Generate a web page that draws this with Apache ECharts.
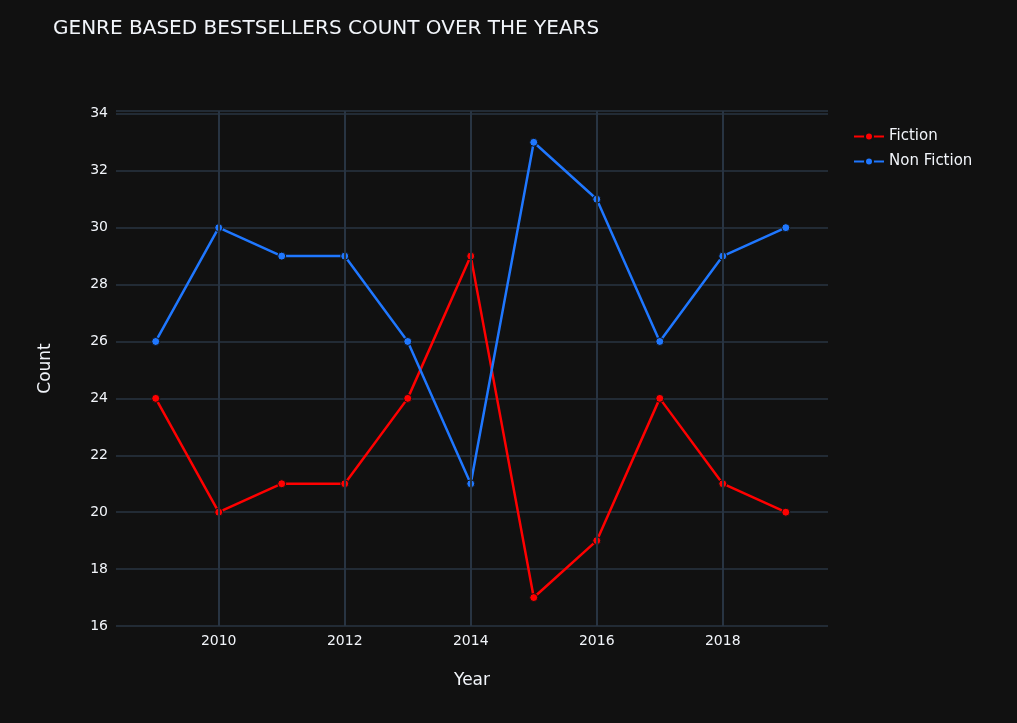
<!DOCTYPE html><html><head><meta charset="utf-8"><script src="https://cdn.jsdelivr.net/npm/echarts@6/dist/echarts.min.js"></script>
<style>html,body{margin:0;background:#111111}#c{width:1017px;height:723px}</style></head><body><div id="c"></div><script>
const years=[2009,2010,2011,2012,2013,2014,2015,2016,2017,2018,2019];
const fiction=[24,20,21,21,24,29,17,19,24,21,20];
const nonFiction=[26,30,29,29,26,21,33,31,26,29,30];
const xTicks=[2010,2012,2014,2016,2018];
const font='"DejaVu Sans", sans-serif';
const mk=(name,data,color)=>({name,type:'line',data:years.map((y,i)=>[y,data[i]]),symbol:'circle',symbolSize:8,
 lineStyle:{color,width:2.5},itemStyle:{color,borderColor:'#111',borderWidth:1},emphasis:{disabled:true}});
const s0=mk('Fiction',fiction,'#ff0000');
s0.markLine={silent:true,symbol:'none',label:{show:false},lineStyle:{color:'#283442',width:2,type:'solid'},data:xTicks.map(v=>({xAxis:v}))};
s0.z=3;
echarts.init(document.getElementById('c')).setOption({
 backgroundColor:'#111111',animation:false,textStyle:{fontFamily:font},
 title:{text:'GENRE BASED BESTSELLERS COUNT OVER THE YEARS',left:48,top:14,textStyle:{color:'#f2f5fa',fontSize:20,fontWeight:'normal',fontFamily:font}},
 legend:{orient:'vertical',left:848,top:124,itemGap:10,itemWidth:30,itemHeight:10,textStyle:{color:'#f2f5fa',fontSize:15,fontFamily:font}},
 grid:{left:116,right:189,top:111,bottom:97},
 xAxis:{type:'value',min:2008.37,max:2019.67,name:'Year',nameLocation:'middle',nameGap:46,nameTextStyle:{color:'#f2f5fa',fontSize:17,fontFamily:font},
  axisLabel:{color:'#f2f5fa',fontSize:14,customValues:xTicks,formatter:v=>v,fontFamily:font},axisTick:{show:false},axisLine:{show:false},
  splitLine:{show:false}},
 yAxis:{type:'value',min:16,max:34.1,interval:2,name:'Count',nameLocation:'middle',nameGap:62,nameTextStyle:{color:'#f2f5fa',fontSize:17,fontFamily:font},
  axisLabel:{color:'#f2f5fa',fontSize:14,showMaxLabel:false,fontFamily:font},axisLine:{show:false},axisTick:{show:false},splitLine:{lineStyle:{color:'#283442',width:1.5}}},
 series:[s0,mk('Non Fiction',nonFiction,'#1f77ff')]
});
</script></body></html>
